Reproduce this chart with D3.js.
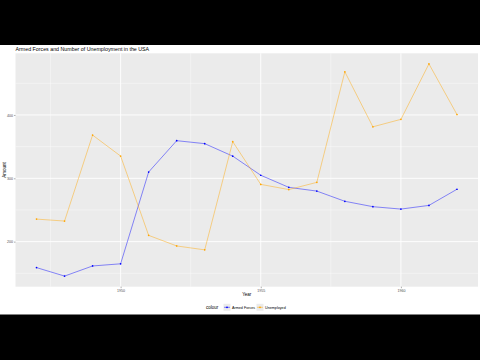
<!DOCTYPE html>
<html>
<head>
<meta charset="utf-8">
<script src="https://d3js.org/d3.v7.min.js"></script>
<style>
  body { margin: 0; background: #000; }
  svg { display: block; font-family: "Liberation Sans", Arial, sans-serif; }
</style>
</head>
<body>
<div id="chart"></div>
<script>
// longley: Armed Forces and Unemployed, 1947-1962
var years = [1947, 1948, 1949, 1950, 1951, 1952, 1953, 1954, 1955, 1956, 1957, 1958, 1959, 1960, 1961, 1962];
var armedForces = [159.0, 145.6, 161.6, 165.0, 309.9, 359.4, 354.7, 335.0, 304.8, 285.7, 279.8, 263.7, 255.2, 251.4, 257.2, 282.7];
var unemployed = [235.6, 232.5, 368.2, 335.1, 209.9, 193.2, 187.0, 357.8, 290.4, 282.2, 293.6, 468.1, 381.3, 393.1, 480.6, 400.7];
var xTicks = [1950, 1955, 1960];
var yTicks = [200, 300, 400];
var seriesNames = ["Armed Forces", "Unemployed"];
var seriesColors = ["#0000FF", "#FFA500"];

var width = 480, height = 360;

var svg = d3.select("#chart")
    .append("svg")
    .attr("width", width)
    .attr("height", height);

// letterbox bands
svg.append("rect").attr("x", 0).attr("y", 0).attr("width", width).attr("height", height).attr("fill", "#000");
svg.append("rect").attr("x", 0).attr("y", 45).attr("width", width).attr("height", 269.5).attr("fill", "#fff");

var panel = {left: 15.5, right: 478, top: 53.3, bottom: 286.7};

// ggplot style 5% expansion
var xr = d3.extent(years), xpad = (xr[1] - xr[0]) * 0.05;
var allY = armedForces.concat(unemployed);
var yr = d3.extent(allY), ypad = (yr[1] - yr[0]) * 0.05;

var x = d3.scaleLinear().domain([xr[0] - xpad, xr[1] + xpad]).range([panel.left, panel.right]);
var y = d3.scaleLinear().domain([yr[0] - ypad, yr[1] + ypad]).range([panel.bottom, panel.top]);

svg.append("rect")
    .attr("x", panel.left).attr("y", panel.top)
    .attr("width", panel.right - panel.left)
    .attr("height", panel.bottom - panel.top)
    .attr("fill", "#EBEBEB");

// minor grid
var xMinor = [1947.5, 1952.5, 1957.5];
var yMinor = [150, 250, 350, 450];
svg.selectAll(".xminor").data(xMinor).enter().append("line")
    .attr("x1", function(d) { return x(d); }).attr("x2", function(d) { return x(d); })
    .attr("y1", panel.top).attr("y2", panel.bottom)
    .attr("stroke", "#fff").attr("stroke-width", 0.4);
svg.selectAll(".yminor").data(yMinor).enter().append("line")
    .attr("y1", function(d) { return y(d); }).attr("y2", function(d) { return y(d); })
    .attr("x1", panel.left).attr("x2", panel.right)
    .attr("stroke", "#fff").attr("stroke-width", 0.4);

// major grid
svg.selectAll(".xmajor").data(xTicks).enter().append("line")
    .attr("x1", function(d) { return x(d); }).attr("x2", function(d) { return x(d); })
    .attr("y1", panel.top).attr("y2", panel.bottom)
    .attr("stroke", "#fff").attr("stroke-width", 0.9);
svg.selectAll(".ymajor").data(yTicks).enter().append("line")
    .attr("y1", function(d) { return y(d); }).attr("y2", function(d) { return y(d); })
    .attr("x1", panel.left).attr("x2", panel.right)
    .attr("stroke", "#fff").attr("stroke-width", 0.9);

// axes
var xAxis = d3.axisBottom(x).tickValues(xTicks).tickSize(1.5).tickPadding(1).tickFormat(d3.format("d"));
var gx = svg.append("g").attr("transform", "translate(0," + panel.bottom + ")").call(xAxis);
var yAxis = d3.axisLeft(y).tickValues(yTicks).tickSize(1.5).tickPadding(1);
var gy = svg.append("g").attr("transform", "translate(" + panel.left + ",0)").call(yAxis);
[gx, gy].forEach(function(g) {
  g.select(".domain").remove();
  g.selectAll(".tick line").attr("stroke", "#333").attr("stroke-width", 0.4);
  g.selectAll(".tick text").attr("fill", "#4D4D4D").style("font-size", "3.6px")
      .style("font-family", "Liberation Sans, Arial, sans-serif");
});

// series
var series = [armedForces, unemployed];
var line = d3.line()
    .x(function(d, i) { return x(years[i]); })
    .y(function(d) { return y(d); });

series.forEach(function(vals, k) {
  svg.append("path")
      .datum(vals)
      .attr("d", line)
      .attr("fill", "none")
      .attr("stroke", seriesColors[k])
      .attr("stroke-width", 0.45);
  svg.selectAll(".pt" + k).data(vals).enter().append("circle")
      .attr("cx", function(d, i) { return x(years[i]); })
      .attr("cy", function(d) { return y(d); })
      .attr("r", 0.85)
      .attr("fill", seriesColors[k]);
});

// titles
svg.append("text")
    .attr("x", panel.left).attr("y", 50.5)
    .style("font-size", "5.3px").attr("fill", "#000")
    .text("Armed Forces and Number of Unemployment in the USA");

svg.append("text")
    .attr("x", (panel.left + panel.right) / 2).attr("y", 296)
    .attr("text-anchor", "middle")
    .style("font-size", "4.5px").attr("fill", "#000")
    .text("Year");

svg.append("text")
    .attr("transform", "translate(5.6," + ((panel.top + panel.bottom) / 2) + ") rotate(-90)")
    .attr("text-anchor", "middle")
    .style("font-size", "4.5px").attr("fill", "#000")
    .text("Amount");

// legend
var lg = svg.append("g").attr("transform", "translate(0,307.3)");
lg.append("text").attr("x", 206).attr("y", 1.5)
    .style("font-size", "4.5px").attr("fill", "#000").text("colour");
var keyX = [223.5, 256.5];
seriesNames.forEach(function(name, k) {
  var kx = keyX[k];
  lg.append("rect").attr("x", kx).attr("y", -3.5).attr("width", 7).attr("height", 7).attr("fill", "#EBEBEB");
  lg.append("line").attr("x1", kx + 0.6).attr("x2", kx + 6.4).attr("y1", 0).attr("y2", 0)
      .attr("stroke", seriesColors[k]).attr("stroke-width", 0.5);
  lg.append("circle").attr("cx", kx + 3.5).attr("cy", 0).attr("r", 0.9).attr("fill", seriesColors[k]);
  lg.append("text").attr("x", kx + 8.5).attr("y", 1.3)
      .style("font-size", "3.7px").attr("fill", "#000").text(name);
});
</script>
</body>
</html>
